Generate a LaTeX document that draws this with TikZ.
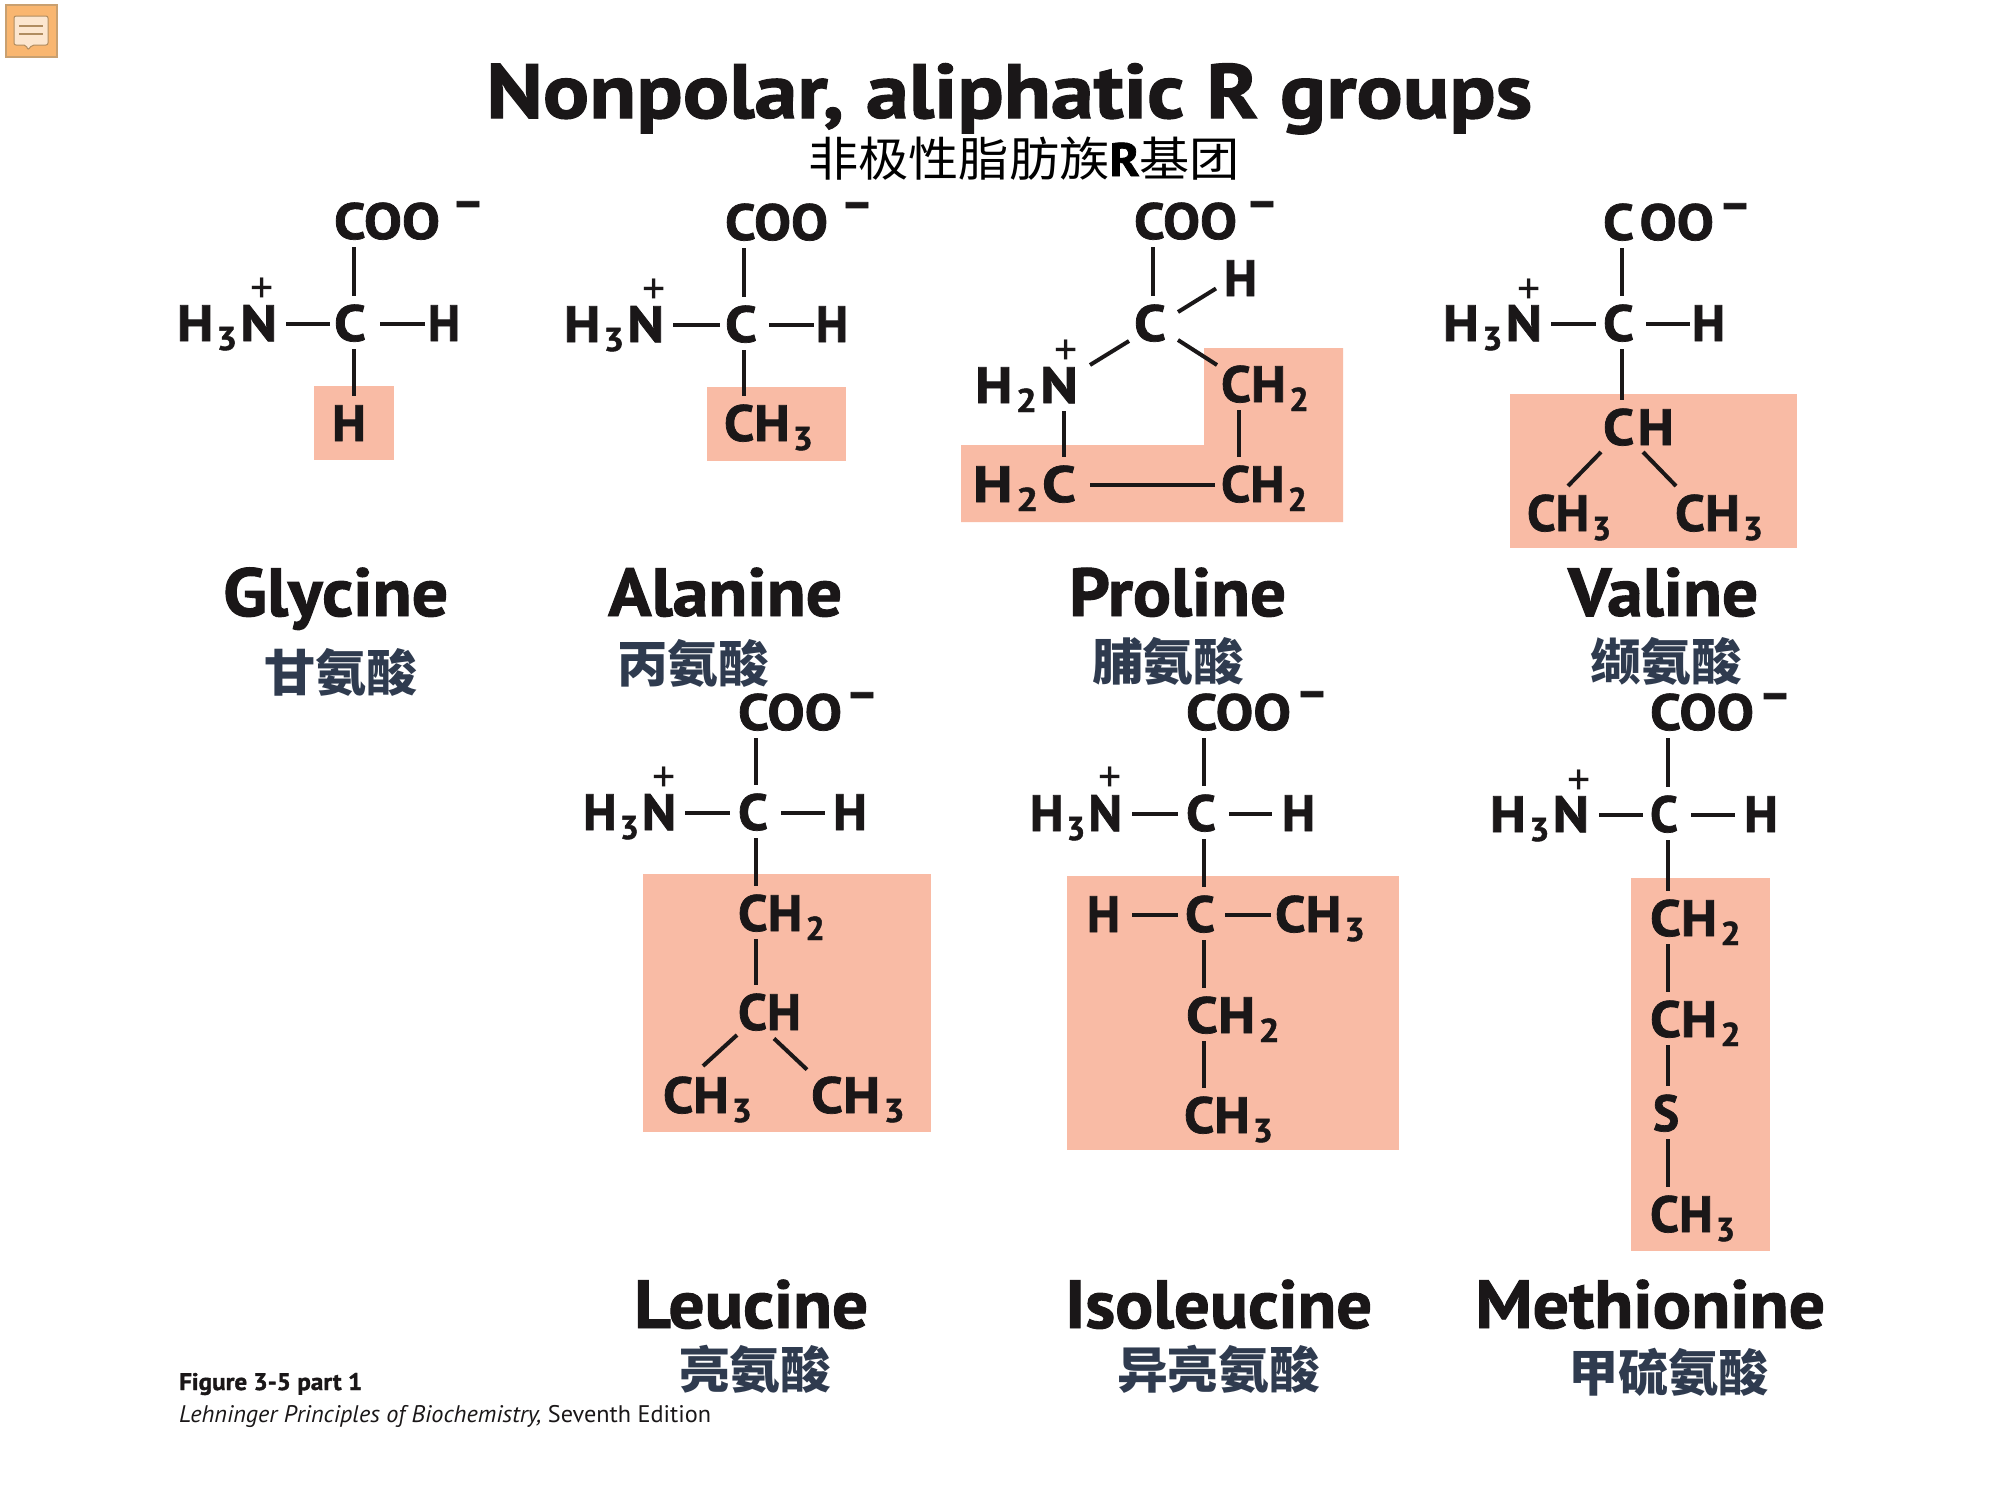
\documentclass[tikz,border=0pt]{standalone}
\usepackage{graphicx}
\usepackage{fontspec}
\setmainfont{PT Sans}[BoldFeatures={FakeBold=1.4}]
\newfontfamily\cjk{Noto Sans CJK SC}
\definecolor{ink}{HTML}{1A1718}
\definecolor{rgroup}{HTML}{F9BBA5}
\definecolor{slate}{HTML}{2F3B4F}
\definecolor{iconfill}{HTML}{F9B670}
\definecolor{iconedge}{HTML}{C9A070}
\definecolor{iconbub}{HTML}{FCE6CF}
\definecolor{iconline}{HTML}{B08C60}
\newsavebox\lbox
\newcommand{\fitw}[2]{\sbox\lbox{#2}\pgfmathsetmacro\rr{(#1)/\the\wd\lbox}\scalebox{\rr}[1]{\usebox\lbox}}
\newcommand{\subs}[1]{\kern3pt\raisebox{-9pt}{\fontsize{33pt}{33pt}\selectfont #1}\kern3pt}
\tikzset{
  atom/.style={anchor=base west,inner sep=0pt,outer sep=0pt,text height=34pt,text depth=0pt,text=ink,
    font=\fontsize{51pt}{52pt}\selectfont\bfseries},
  ttl/.style={anchor=base west,inner sep=0pt,text=ink,font=\fontsize{77pt}{79pt}\selectfont\bfseries},
  aname/.style={anchor=base west,inner sep=0pt,text=ink,font=\fontsize{68pt}{70pt}\selectfont\bfseries},
  zh/.style={anchor=base west,inner sep=0pt,text=slate,font=\fontsize{50pt}{52pt}\cjk\bfseries},
  zht/.style={anchor=base west,inner sep=0pt,text=black,font=\fontsize{47pt}{50pt}\cjk},
  capt/.style={anchor=base west,inner sep=0pt,text=ink,font=\fontsize{24pt}{26pt}\selectfont},
  chgplus/.style={anchor=base,inner sep=0pt,text=ink,font=\fontsize{46pt}{46pt}\selectfont},
  chgminus/.style={anchor=base,inner sep=0pt,text=ink,font=\fontsize{50pt}{50pt}\selectfont\bfseries},
  bond/.style={draw=ink,line width=4pt},
  rbox/.style={fill=rgroup},
}
\newcommand{\lbl}[5]{\node[atom] (#1) at (#2-2,#4) {\fitw{#3-#2+3}{#5}};}
\newcommand{\amino}[5]{\node[aname] (#1) at (#2-2,#4+1) {\fitw{#3-#2+4}{#5}};}
\newcommand{\zhn}[5]{\node[zh] (#1) at (#2-2,#4-1) {\fitw{#3-#2+4}{#5}};}
\newcommand{\vb}[3]{\draw[bond,shorten <=8pt,shorten >=11pt] (#2.south -| #1) -- (#3.north -| #1);}
\newcommand{\hb}[4]{\draw[bond,shorten <=#3pt,shorten >=#4pt] (#1.east) -- (#2.west);}
\newcommand{\pl}[3]{\node[chgplus] (#1) at (#2,#3+16) {+};}
\newcommand{\mn}[3]{\node[chgminus] (#1) at (#2,#3+16) {\char"2212};}
\newcommand{\HN}{H\subs{3}N}
\begin{document}
\begin{tikzpicture}[x=1pt,y=-1pt]
\useasboundingbox (0,0) rectangle (2000,1500);
\fill[white] (0,0) rectangle (2000,1500);
% icon
\draw[fill=iconfill,draw=iconedge,line width=1.2pt] (6,5) rectangle (57,57);
\draw[fill=iconbub,draw=iconline,line width=1pt,rounded corners=2pt] (14,16) -- (48,16) -- (48,45) -- (32,45) -- (28,50) -- (26,45) -- (14,45) -- cycle;
\draw[iconline,line width=1.4pt] (19,26) -- (43,26) (19,34) -- (43,34);
% title
\node[ttl] (title) at (486,118) {\fitw{1046}{Nonpolar, aliphatic R groups}};
\node[zht] (subtitle) at (808,176) {\fitw{432}{非极性脂肪族{\rmfamily\bfseries R}基团}};
% R boxes
\fill[rbox] (314,386) rectangle (394,460);
\fill[rbox] (707,387) rectangle (846,461);
\fill[rbox] (961,445) -- (1204,445) -- (1204,348) -- (1343,348) -- (1343,522) -- (961,522) -- cycle;
\fill[rbox] (1510,394) rectangle (1797,548);
\fill[rbox] (643,874) rectangle (931,1132);
\fill[rbox] (1067,876) rectangle (1399,1150);
\fill[rbox] (1631,878) rectangle (1770,1251);
% Glycine
\coordinate (gx) at (354,0);
\lbl{gcoo}{336}{439}{239}{COO}\mn{gm}{468}{205}\pl{gp}{262}{287}
\lbl{gn}{179}{276}{341}{\HN}\lbl{gc}{336}{365}{341}{C}\lbl{gh}{430}{459}{341}{H}\lbl{gr}{334}{365}{441}{H}
\vb{gx}{gcoo}{gc}\vb{gx}{gc}{gr}\hb{gn}{gc}{9}{4}\hb{gc}{gh}{14}{3}
\amino{gname}{225}{446}{615}{Glycine}\zhn{gzh}{266}{415}{692}{甘氨酸}
% Alanine
\coordinate (ax) at (744,0);
\lbl{acoo}{727}{827}{240}{COO}\mn{am}{857}{206}\pl{ap}{654}{288}
\lbl{an}{566}{663}{342}{\HN}\lbl{ac}{727}{756}{342}{C}\lbl{ah}{818}{847}{342}{H}\lbl{ar}{726}{815}{441}{CH\subs{3}}
\vb{ax}{acoo}{ac}\vb{ax}{ac}{ar}\hb{an}{ac}{9}{5}\hb{ac}{ah}{12}{2}
\amino{aname}{610}{840}{615}{Alanine}\zhn{azh}{619}{767}{683}{丙氨酸}
% Proline
\coordinate (px) at (1153,0);\coordinate (plx) at (1064,0);\coordinate (prx) at (1239,0);
\lbl{pcoo}{1136}{1236}{239}{COO}\mn{pm}{1262}{205}\pl{pp}{1066}{349}
\lbl{pc}{1136}{1165}{341}{C}\lbl{ph}{1226}{1256}{296}{H}
\lbl{pn}{977}{1077}{403}{H\subs{2}N}\lbl{pb}{1223}{1311}{402}{CH\subs{2}}
\lbl{pd}{975}{1075}{502}{H\subs{2}C}\lbl{pg}{1223}{1309}{502}{CH\subs{2}}
\vb{px}{pcoo}{pc}\vb{plx}{pn}{pd}\vb{prx}{pb}{pg}\hb{pd}{pg}{14}{6}
\draw[bond] ([shift={(12,-12)}]pc.east) -- ([shift={(-8,9.5)}]ph.west);
\draw[bond] ([shift={(12,16)}]pc.east) -- ([shift={(-4,-20)}]pb.west);
\draw[bond] ([shift={(-5,17)}]pc.west) -- ([shift={(12,-21)}]pn.east);
\amino{pname}{1071}{1284}{615}{Proline}\zhn{pzh}{1094}{1242}{681}{脯氨酸}
% Valine
\coordinate (vx) at (1622,0);
\lbl{vcoo}{1605}{1713}{240}{C\kern5pt OO}\mn{vm}{1735}{207}\pl{vp}{1529}{288}
\lbl{vn}{1445}{1541}{341}{\HN}\lbl{vc}{1605}{1633}{341}{C}\lbl{vh}{1694}{1724}{341}{H}
\lbl{vr}{1605}{1673}{445}{C\kern3pt H}\lbl{vl}{1529}{1613}{531}{CH\subs{3}}\lbl{vq}{1677}{1765}{531}{CH\subs{3}}
\vb{vx}{vcoo}{vc}\vb{vx}{vc}{vr}\hb{vn}{vc}{9}{7}\hb{vc}{vh}{12}{2}
\draw[bond] ([shift={(-2,7)}]vr.south west) -- ([shift={(41,-11)}]vl.north west);
\draw[bond] ([shift={(40,7)}]vr.south west) -- ([shift={(1,-11)}]vq.north west);
\amino{vname}{1570}{1756}{615}{Valine}\zhn{vzh}{1592}{1740}{681}{缬氨酸}
% Leucine
\coordinate (lx) at (756,0);
\lbl{lcoo}{740}{841}{730}{COO}\mn{lm}{862}{696}\pl{lp}{664}{776}
\lbl{ln}{585}{675}{830}{\HN}\lbl{lc}{740}{767}{830}{C}\lbl{lh}{835}{866}{830}{H}
\lbl{lr}{740}{827}{931}{CH\subs{2}}\lbl{ls}{740}{800}{1030}{CH}
\lbl{lt}{665}{754}{1113}{CH\subs{3}}\lbl{lu}{813}{907}{1113}{CH\subs{3}}
\vb{lx}{lcoo}{lc}\vb{lx}{lc}{lr}\vb{lx}{lr}{ls}\hb{ln}{lc}{9}{8}\hb{lc}{lh}{13}{8}
\draw[bond] ([shift={(-1,5)}]ls.south west) -- ([shift={(40,-13)}]lt.north west);
\draw[bond] ([shift={(36,8.5)}]ls.south west) -- ([shift={(-4,-9.4)}]lu.north west);
\amino{lname}{636}{866}{1327}{Leucine}\zhn{lzh}{681}{829}{1389}{亮氨酸}
% Isoleucine
\coordinate (ix) at (1204,0);
\lbl{icoo}{1188}{1290}{730}{COO}\mn{im}{1312}{695}\pl{ip}{1110}{776}
\lbl{in}{1032}{1121}{831}{\HN}\lbl{ic}{1188}{1215}{831}{C}\lbl{ih}{1284}{1314}{831}{H}
\lbl{ia}{1089}{1119}{932}{H}\lbl{ib}{1187}{1214}{932}{C}\lbl{id}{1277}{1367}{932}{CH\subs{3}}
\lbl{ie}{1188}{1282}{1033}{CH\subs{2}}\lbl{ig}{1186}{1275}{1133}{CH\subs{3}}
\vb{ix}{icoo}{ic}\vb{ix}{ic}{ib}\vb{ix}{ib}{ie}\vb{ix}{ie}{ig}
\hb{in}{ic}{10}{8}\hb{ic}{ih}{13}{10}\hb{ia}{ib}{12}{7}\hb{ib}{id}{10}{4}
\amino{iname}{1067}{1370}{1327}{Isoleucine}\zhn{izh}{1119}{1318}{1389}{异亮氨酸}
% Methionine
\coordinate (mx) at (1668,0);
\lbl{mcoo}{1652}{1753}{730}{COO}\mn{mm}{1775}{697}\pl{mp}{1579}{779}
\lbl{mn}{1492}{1588}{832}{\HN}\lbl{mc}{1652}{1677}{832}{C}\lbl{mh}{1746}{1777}{832}{H}
\lbl{ma}{1652}{1743}{936}{CH\subs{2}}\lbl{mb}{1652}{1743}{1037}{CH\subs{2}}\lbl{ms}{1655}{1678}{1131}{S}\lbl{mt}{1652}{1737}{1232}{CH\subs{3}}
\vb{mx}{mcoo}{mc}\vb{mx}{mc}{ma}\vb{mx}{ma}{mb}\vb{mx}{mb}{ms}\vb{mx}{ms}{mt}
\hb{mn}{mc}{10}{7}\hb{mc}{mh}{13}{9}
\amino{mname}{1477}{1823}{1327}{Methionine}\zhn{mzh}{1570}{1767}{1392}{甲硫氨酸}
% caption
\node[capt,font=\fontsize{24pt}{26pt}\selectfont\bfseries] (fig) at (179,1390) {\fitw{183}{Figure 3-5 part 1}};
\node[capt] (book) at (179,1422) {\fitw{532}{\itshape Lehninger Principles of Biochemistry,\upshape{} Seventh Edition}};
\end{tikzpicture}
\end{document}
